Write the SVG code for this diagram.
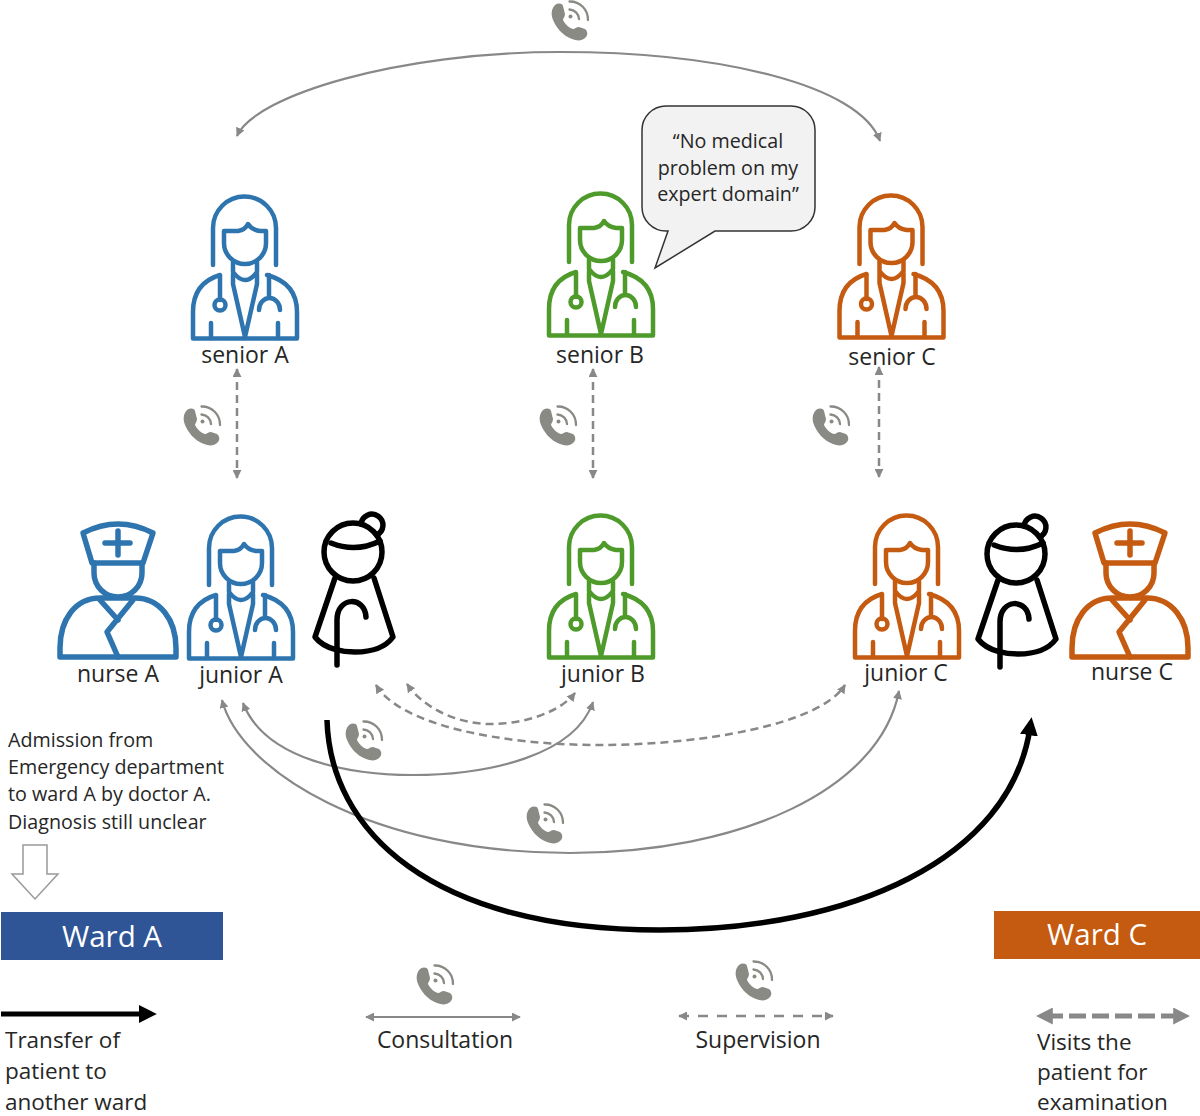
<svg xmlns="http://www.w3.org/2000/svg" xmlns:xlink="http://www.w3.org/1999/xlink" width="1200" height="1116" viewBox="0 0 1200 1116">
<style>
text{font-family:"Open Sans","Noto Sans","Liberation Sans",sans-serif;fill:#262626;font-size:23px}
.m{text-anchor:middle}
.s{font-size:19.700px}
.l{font-size:22.500px}
.w{fill:#fff;font-size:29.500px;text-anchor:middle}
.ic{fill:none;stroke-width:4.500;stroke-linecap:round;stroke-linejoin:round}
.th{stroke-width:5.500}
.blue{stroke:#2E75B0}.green{stroke:#4E9A2A}.orange{stroke:#C55A11}.black{stroke:#000}
.c{fill:none;stroke:#888;stroke-width:2.200}
.d{stroke-dasharray:8 5;stroke-width:2.500}
.ph{fill:#8A8A85}
.pa{fill:none;stroke:#8A8A85;stroke-width:2.300;stroke-linecap:round}
</style>
<defs>
<marker id="a" viewBox="0 0 10 10" refX="9" refY="5" markerWidth="9" markerHeight="9" markerUnits="userSpaceOnUse" orient="auto-start-reverse"><path d="M0 0L10 5L0 10Z" fill="#888"/></marker>
<marker id="b" viewBox="0 0 10 10" refX="4" refY="5" markerWidth="17" markerHeight="17" markerUnits="userSpaceOnUse" orient="auto-start-reverse"><path d="M0 0L10 5L0 10Z" fill="#888"/></marker>
<marker id="k" viewBox="0 0 10 10" refX="4" refY="5" markerWidth="18" markerHeight="18" markerUnits="userSpaceOnUse" orient="auto"><path d="M0 0L10 5L0 10Z" fill="#000"/></marker>
<g id="doc">
<path d="M213 265V228A31.500 31.500 0 0 1 276 228V265"/>
<path d="M224 231H238Q245 230 248 224Q252 230 260 231H266V243A21 21 0 0 1 224 243Z"/>
<path d="M233 262V272Q245 288 257 272V262"/>
<path d="M233 274V284L245 337L257 284V274"/>
<path d="M193 338V312Q193 283 220 275M297 338V312Q297 283 267 275M193 338.500H297"/>
<path d="M220 276V300"/><circle cx="220" cy="305" r="5.500"/>
<path d="M269 275V296M259 310A10.500 12 0 0 1 280 310"/>
<path d="M211 323V338M278 323V338"/>
</g>
<g id="nurse">
<path d="M83 533Q118 515 153 533L143 563H92Z"/>
<path d="M105 543H130M118 531V555"/>
<path d="M94 563V573A24 24 0 0 0 142 573V563"/>
<path d="M60 657V648C60 620 75 598 100 598H135C160 598 176 620 176 648V657Z"/>
<path d="M100 600L118 620M133 600L107 632L118 657"/>
</g>
<g id="patient">
<circle cx="353" cy="552" r="29"/>
<path d="M361 524.100A11 11 0 1 1 376.600 535.100"/>
<path d="M331 543Q356 553 380 541"/>
<path d="M335 578L315 637C325 650 345 652 355 652C370 652 385 648 393 637L374 578"/>
<path d="M337 665V620C337 596 365 596 366 617"/>
</g>
<g id="phone">
<path class="ph" d="M5 5C8 3 12 3 13 6L15 14C15 17 13 18 13 20C15 24 19 28 23 29C25 29 26 27 29 27L35 29C38 31 38 36 35 38C32 41 27 41 22 39C13 36 5 27 2 17C1 12 2 8 5 5Z"/>
<path class="pa" d="M19.500 9.500A10 10 0 0 1 29 19M19.500 1.500A18 18 0 0 1 38 20"/>
<circle class="ph" cx="20.500" cy="16.500" r="2"/>
</g>
</defs>
<rect width="1200" height="1116" fill="#fff"/>
<g id="connectors">
<path class="c" marker-start="url(#a)" marker-end="url(#a)" d="M237 136C255 95 400 52 560 52C720 52 860 85 880 141"/>
<path class="c d" marker-start="url(#a)" marker-end="url(#a)" d="M237 369V478"/>
<path class="c d" marker-start="url(#a)" marker-end="url(#a)" d="M593 369V478"/>
<path class="c d" marker-start="url(#a)" marker-end="url(#a)" d="M879 367V477"/>
<path class="c" marker-start="url(#a)" marker-end="url(#a)" d="M243 703C265 760 350 775 413 775C490 775 575 755 593 702"/>
<path class="c" marker-start="url(#a)" marker-end="url(#a)" d="M222 700C240 770 370 853 570 853C740 853 880 790 899 691"/>
<path class="c d" marker-start="url(#a)" marker-end="url(#a)" d="M407 684C425 710 460 724 490 724C525 724 560 712 575 693"/>
<path class="c d" marker-start="url(#a)" marker-end="url(#a)" d="M376 685C400 725 500 745 600 745C700 745 820 725 845 685"/>
<path fill="none" stroke="#000" stroke-width="5.500" marker-end="url(#k)" d="M327 720C330 830 430 930 660 930C850 930 1010 860 1030 728"/>
<path stroke="#000" stroke-width="5" marker-end="url(#k)" d="M1 1014H146"/>
<path class="c" marker-start="url(#a)" marker-end="url(#a)" d="M366 1017H520"/>
<path class="c" style="stroke-width:2.500;stroke-dasharray:10 9" marker-start="url(#a)" marker-end="url(#a)" d="M679 1016H833"/>
<path fill="none" stroke="#888" stroke-width="5" stroke-dasharray="17 6" marker-start="url(#b)" marker-end="url(#b)" d="M1046 1016H1180"/>
</g>
<g id="phones">
<use href="#phone" x="550" y="0"/>
<use href="#phone" x="182" y="405"/>
<use href="#phone" x="538" y="405"/>
<use href="#phone" x="811" y="405"/>
<use href="#phone" x="344" y="720"/>
<use href="#phone" x="525" y="803"/>
<use href="#phone" x="415" y="964"/>
<use href="#phone" x="734" y="960"/>
</g>
<g id="senior-a"><use href="#doc" class="ic blue"/><text class="m" x="245" y="363">senior A</text></g>
<g id="senior-b"><use href="#doc" class="ic green" x="356" y="-3"/><text class="m" x="600" y="363">senior B</text></g>
<g id="senior-c"><use href="#doc" class="ic orange" x="646.500" y="-1"/><text class="m" x="892" y="365">senior C</text></g>
<g id="nurse-a"><use href="#nurse" class="ic th blue"/><text class="m" x="118" y="682">nurse A</text></g>
<g id="junior-a"><use href="#doc" class="ic blue" x="-4" y="320"/><text class="m" x="241" y="683">junior A</text></g>
<g id="patient-a"><use href="#patient" class="ic th black"/></g>
<g id="junior-b"><use href="#doc" class="ic green" x="356" y="319"/><text class="m" x="603" y="682">junior B</text></g>
<g id="junior-c"><use href="#doc" class="ic orange" x="662" y="319"/><text class="m" x="906" y="681">junior C</text></g>
<g id="patient-c"><use href="#patient" class="ic th black" x="663" y="2"/></g>
<g id="nurse-c"><use href="#nurse" class="ic th orange" x="1012" y="0"/><text class="m" x="1132" y="680">nurse C</text></g>
<g id="bubble">
<path d="M666 106H791A24 24 0 0 1 815 130V207A24 24 0 0 1 791 231H715L655 268L668 231H666A24 24 0 0 1 642 207V130A24 24 0 0 1 666 106Z" fill="#F2F2F2" stroke="#333" stroke-width="1.500"/>
<text class="m s" x="728" y="148">“No medical</text>
<text class="m s" x="728" y="175">problem on my</text>
<text class="m s" x="728" y="201">expert domain”</text>
</g>
<g id="admission">
<text class="s" x="8" y="747">Admission from</text>
<text class="s" x="8" y="774">Emergency department</text>
<text class="s" x="8" y="801">to ward A by doctor A.</text>
<text class="s" x="8" y="829">Diagnosis still unclear</text>
<polygon points="23,845 47,845 47,874 58,874 35,899 12,874 23,874" fill="#fff" stroke="#999" stroke-width="1.500"/>
</g>
<g id="ward-a"><rect x="1" y="912" width="222" height="48" fill="#2F5597"/><text class="w" x="112" y="947">Ward A</text></g>
<g id="ward-c"><rect x="994" y="911" width="206" height="48" fill="#C55A11"/><text class="w" x="1097" y="945">Ward C</text></g>
<g id="legend">
<text class="l" x="5" y="1048">Transfer of</text>
<text class="l" x="5" y="1079">patient to</text>
<text class="l" x="5" y="1110">another ward</text>
<text class="m" x="445" y="1048">Consultation</text>
<text class="m" x="758" y="1048">Supervision</text>
<text class="l" x="1037" y="1050">Visits the</text>
<text class="l" x="1037" y="1080">patient for</text>
<text class="l" x="1037" y="1110">examination</text>
</g>
</svg>
